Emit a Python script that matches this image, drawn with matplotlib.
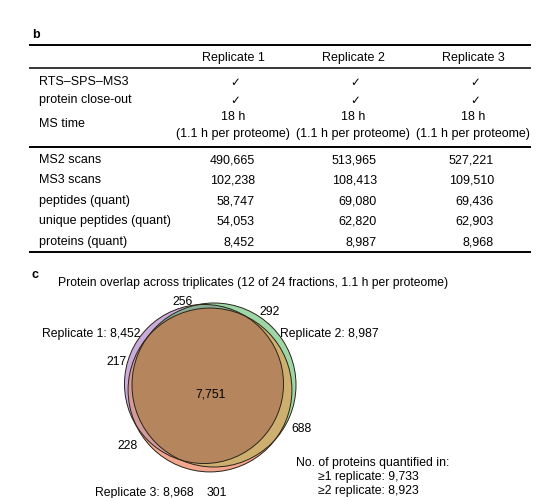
import numpy as np
import matplotlib
matplotlib.use("Agg")
import matplotlib.pyplot as plt
from matplotlib.patches import Circle, Polygon

plt.rcParams['font.family'] = ['Liberation Sans', 'DejaVu Sans']

# ---------------- data ----------------
replicates = ["Replicate 1", "Replicate 2", "Replicate 3"]
method_rows = ["RTS\u2013SPS\u2013MS3", "protein close-out", "MS time"]
ms_time_line1 = ["18 h", "18 h", "18 h"]
ms_time_line2 = ["(1.1 h per proteome)"] * 3
stat_rows = ["MS2 scans", "MS3 scans", "peptides (quant)",
             "unique peptides (quant)", "proteins (quant)"]
ms2_scans = [490665, 513965, 527221]
ms3_scans = [102238, 108413, 109510]
peptides = [58747, 69080, 69436]
unique_peptides = [54053, 62820, 62903]
proteins = [8452, 8987, 8968]

venn_totals = [8452, 8987, 8968]
only1, only2, only3 = 217, 292, 301
r12, r13, r23 = 256, 228, 688
r123 = 7751
at_least_1 = 9733
at_least_2 = 8923

# ---------------- figure ----------------
W, H = 553, 498
fig = plt.figure(figsize=(W / 100, H / 100), dpi=100)
ax = fig.add_axes([0, 0, 1, 1])
ax.set_xlim(0, W)
ax.set_ylim(H, 0)
ax.axis('off')

fs = 9
# panel b
ax.text(32, 35, "b", fontsize=9, fontweight='bold', ha='left', va='center')
xl, xr = 29, 531
for y, lw in [(45, 1.4), (68, 1.1), (147, 1.4), (252, 1.4)]:
    ax.plot([xl, xr], [y, y], color='black', lw=lw, solid_capstyle='butt')

col_c = [233, 353, 473]
col_r = [255, 377, 494]
for x, name in zip(col_c, replicates):
    ax.text(x, 58, name, fontsize=fs, ha='center', va='center')

label_x = 39
ax.text(label_x, 82, method_rows[0], fontsize=fs, ha='left', va='center')
ax.text(label_x, 100, method_rows[1], fontsize=fs, ha='left', va='center')
ax.text(label_x, 124, method_rows[2], fontsize=fs, ha='left', va='center')
for i, x in enumerate(col_c):
    ax.text(x + 2, 82, "\u2713", fontsize=8.5, ha='center', va='center',
            family=['DejaVu Sans'])
    ax.text(x + 2, 100, "\u2713", fontsize=8.5, ha='center', va='center',
            family=['DejaVu Sans'])
    ax.text(x, 117, ms_time_line1[i], fontsize=fs, ha='center', va='center')
    ax.text(x, 134, ms_time_line2[i], fontsize=fs, ha='center', va='center')

stat_vals = [ms2_scans, ms3_scans, peptides, unique_peptides, proteins]
row_y = [160, 180, 201, 221, 242]
for y, name, vals in zip(row_y, stat_rows, stat_vals):
    ax.text(label_x, y, name, fontsize=fs, ha='left', va='center')
    for x, v in zip(col_r, vals):
        ax.text(x, y, f"{v:,}", fontsize=fs, ha='right', va='center')

# panel c
ax.text(32, 275, "c", fontsize=9, fontweight='bold', ha='left', va='center')
ax.text(58, 283, "Protein overlap across triplicates (12 of 24 fractions, 1.1 h per proteome)",
        fontsize=8.75, ha='left', va='center')

k = 0.865
radii = [k * np.sqrt(t) for t in venn_totals]
centers = [(204, 384), (214, 385), (210, 390)]
c_only = ['#c9abdc', '#9dd7a8', '#f3a68e']
c12, c13, c23, c123 = '#86ad93', '#d39a9c', '#cdb070', '#b5865e'

circ = []
for (cx, cy), r, c in zip(centers, radii, c_only):
    p = Circle((cx, cy), r, facecolor=c, edgecolor='none')
    ax.add_patch(p)
    circ.append(p)


def clipped(i, j, color):
    cx, cy = centers[i]
    p = Circle((cx, cy), radii[i], facecolor=color, edgecolor='none')
    ax.add_patch(p)
    p.set_clip_path(circ[j])


clipped(1, 0, c12)
clipped(2, 0, c13)
clipped(2, 1, c23)

# triple intersection polygon
pts = []
th = np.linspace(0, 2 * np.pi, 1500, endpoint=False)
for i in range(3):
    cx, cy = centers[i]
    px = cx + radii[i] * np.cos(th)
    py = cy + radii[i] * np.sin(th)
    ok = np.ones_like(px, dtype=bool)
    for j in range(3):
        if j == i:
            continue
        ok &= (px - centers[j][0]) ** 2 + (py - centers[j][1]) ** 2 <= radii[j] ** 2 + 1e-6
    pts.append(np.column_stack([px[ok], py[ok]]))
pts = np.vstack(pts)
m = pts.mean(axis=0)
order = np.argsort(np.arctan2(pts[:, 1] - m[1], pts[:, 0] - m[0]))
ax.add_patch(Polygon(pts[order], closed=True, facecolor=c123, edgecolor='none'))

for (cx, cy), r in zip(centers, radii):
    ax.add_patch(Circle((cx, cy), r, facecolor='none', edgecolor='#2b2418', lw=0.7))

vfs = 8.8
ax.text(140, 334, f"Replicate 1: {venn_totals[0]:,}", fontsize=vfs, ha='right', va='center')
ax.text(280, 334, f"Replicate 2: {venn_totals[1]:,}", fontsize=vfs, ha='left', va='center')
ax.text(194, 493, f"Replicate 3: {venn_totals[2]:,}", fontsize=vfs, ha='right', va='center')
ax.text(183, 302, f"{r12:,}", fontsize=vfs, ha='center', va='center')
ax.text(270, 312, f"{only2:,}", fontsize=vfs, ha='center', va='center')
ax.text(117, 362, f"{only1:,}", fontsize=vfs, ha='center', va='center')
ax.text(211, 394, f"{r123:,}", fontsize=vfs, ha='center', va='center')
ax.text(301, 429, f"{r23:,}", fontsize=vfs, ha='center', va='center')
ax.text(128, 446, f"{r13:,}", fontsize=vfs, ha='center', va='center')
ax.text(217, 493, f"{only3:,}", fontsize=vfs, ha='center', va='center')

ax.text(296, 463, "No. of proteins quantified in:", fontsize=vfs, ha='left', va='center')
ax.text(318, 477, f"\u22651 replicate: {at_least_1:,}", fontsize=vfs, ha='left', va='center')
ax.text(318, 491, f"\u22652 replicate: {at_least_2:,}", fontsize=vfs, ha='left', va='center')

fig.savefig("out.png", dpi=100, facecolor='white')
